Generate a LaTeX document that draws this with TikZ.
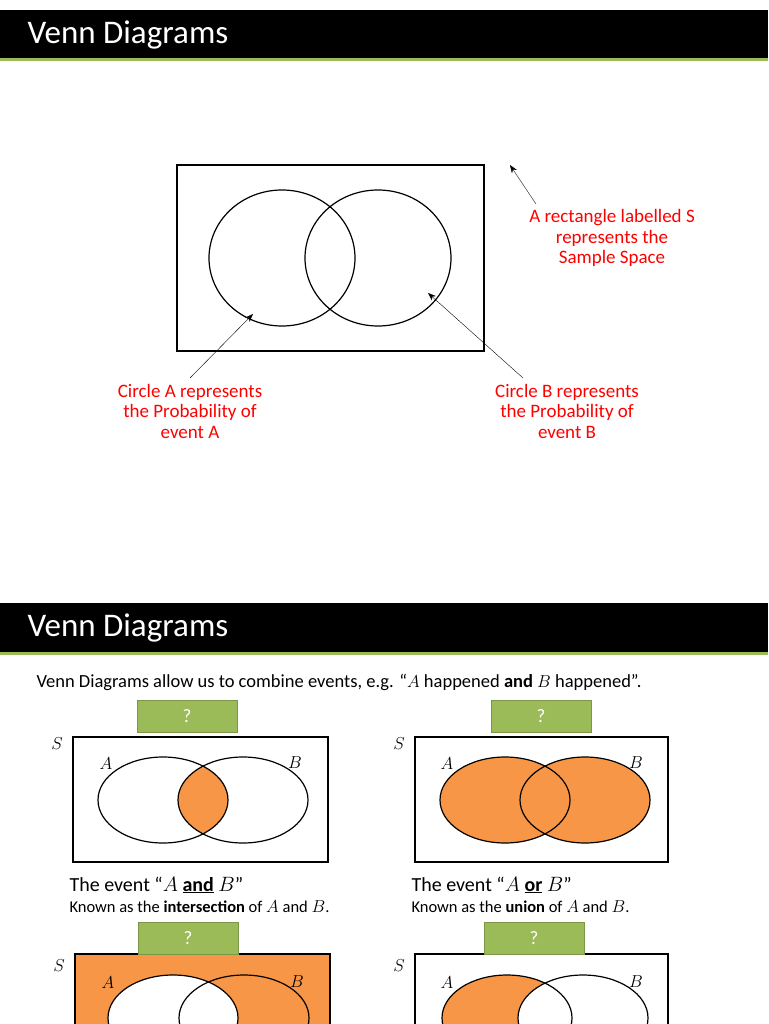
\documentclass[tikz,border=0pt]{standalone}
\usepackage{fontspec}
\setmainfont{Carlito}
\usetikzlibrary{arrows.meta}
\definecolor{org}{HTML}{F79646}
\definecolor{grn}{HTML}{9BBB59}
\definecolor{red1}{HTML}{FF0000}
\begin{document}
\begin{tikzpicture}[x=1pt,y=-1pt,
 bar/.style={fill=black,draw=none},
 title/.style={anchor=west,text=white,font=\fontsize{33}{38}\selectfont},
 lab/.style={text=red1,font=\fontsize{19}{20.5}\selectfont,align=center},
 arr/.style={-{Stealth[length=8pt,width=6pt]},thin},
 qbox/.style={fill=grn,draw=grn!80!black,text=white,minimum width=100pt,minimum height=32pt,inner sep=0pt,font=\fontsize{19}{21}\selectfont},
 captxt/.style={anchor=west,font=\fontsize{20}{22}\selectfont},
 captxtb/.style={anchor=west,font=\fontsize{16.5}{18}\selectfont},
 vl/.style={font=\fontsize{17}{19}\selectfont\itshape}]
\useasboundingbox (0,0) rectangle (768,1024);
% slide 1
\fill[bar] (0,10) rectangle (768,58);
\fill[grn] (0,58) rectangle (768,61);
\node[title] (t1) at (24,35) {Venn Diagrams};
\draw[line width=1.2pt] (177,165) rectangle (484,351);
\draw[line width=1.2pt] (282,258) ellipse [x radius=73,y radius=68];
\draw[line width=1.2pt] (378,258) ellipse [x radius=73,y radius=68];
\coordinate (tS) at (510,165);
\coordinate (tA) at (253,314);
\coordinate (tB) at (428,293);
\node[lab] (ls) at (612,238) {A rectangle labelled S\\represents the\\Sample Space};
\node[lab] (la) at (190,411) {Circle A represents\\the Probability of\\event A};
\node[lab] (lb) at (567,411) {Circle B represents\\the Probability of\\event B};
\coordinate (sS) at (536,204);
\coordinate (sA) at (190,378);
\coordinate (sB) at (523,378);
\draw[arr] (sS) -- (tS);
\draw[arr] (sA) -- (tA);
\draw[arr] (sB) -- (tB);
% slide 2
\fill[bar] (0,603) rectangle (768,652);
\fill[grn] (0,652) rectangle (768,655);
\node[title] (t2) at (24,628) {Venn Diagrams};
\node[anchor=west,font=\fontsize{18.5}{20}\selectfont] (intro) at (33,682) {Venn Diagrams allow us to combine events, e.g. “$A$ happened \textbf{and} $B$ happened”.};
% top left: intersection
\begin{scope}
\clip (163,800) ellipse [x radius=65,y radius=43];
\fill[org] (243,800) ellipse [x radius=65,y radius=43];
\end{scope}
\draw[line width=1.2pt] (73,737) rectangle (328,862);
\draw[line width=1.2pt] (163,800) ellipse [x radius=65,y radius=43];
\draw[line width=1.2pt] (243,800) ellipse [x radius=65,y radius=43];
\node[qbox] (q1) at (187,716) {?};
\node[vl] (s1) at (57,744) {$S$};
\node[vl] (a1) at (106,764) {$A$};
\node[vl] (b1) at (295,763) {$B$};
\node[captxt] (c1) at (66,885) {The event “$A$ \underline{\textbf{and}} $B$”};
\node[captxtb] (d1) at (66,907) {Known as the \textbf{intersection} of $A$ and $B$.};
% top right: union
\fill[org] (505,800) ellipse [x radius=65,y radius=43];
\fill[org] (585,800) ellipse [x radius=65,y radius=43];
\draw[line width=1.2pt] (415,737) rectangle (668,862);
\draw[line width=1.2pt] (505,800) ellipse [x radius=65,y radius=43];
\draw[line width=1.2pt] (585,800) ellipse [x radius=65,y radius=43];
\node[qbox] (q2) at (541,716) {?};
\node[vl] (s2) at (399,744) {$S$};
\node[vl] (a2) at (447,764) {$A$};
\node[vl] (b2) at (636,763) {$B$};
\node[captxt] (c2) at (408,885) {The event “$A$ \underline{\textbf{or}} $B$”};
\node[captxtb] (d2) at (408,907) {Known as the \textbf{union} of $A$ and $B$.};
% bottom left: not A
\fill[org] (75,954) rectangle (330,1024);
\fill[white] (173,1018) ellipse [x radius=65,y radius=43];
\draw[line width=1.2pt] (75,1030) -- (75,954) -- (330,954) -- (330,1030);
\draw[line width=1.2pt] (173,1018) ellipse [x radius=65,y radius=43];
\draw[line width=1.2pt] (244,1018) ellipse [x radius=65,y radius=43];
\node[qbox] (q3) at (188,938) {?};
\node[vl] (s3) at (59,966) {$S$};
\node[vl] (a3) at (108,983) {$A$};
\node[vl] (b3) at (297,982) {$B$};
% bottom right: A not B
\begin{scope}
\clip (415,954) rectangle (668,1024);
\fill[org] (507,1018) ellipse [x radius=65,y radius=43];
\fill[white] (583,1018) ellipse [x radius=65,y radius=43];
\end{scope}
\draw[line width=1.2pt] (415,1030) -- (415,954) -- (668,954) -- (668,1030);
\draw[line width=1.2pt] (507,1018) ellipse [x radius=65,y radius=43];
\draw[line width=1.2pt] (583,1018) ellipse [x radius=65,y radius=43];
\node[qbox] (q4) at (534,938) {?};
\node[vl] (s4) at (399,966) {$S$};
\node[vl] (a4) at (447,983) {$A$};
\node[vl] (b4) at (636,982) {$B$};
\end{tikzpicture}
\end{document}
